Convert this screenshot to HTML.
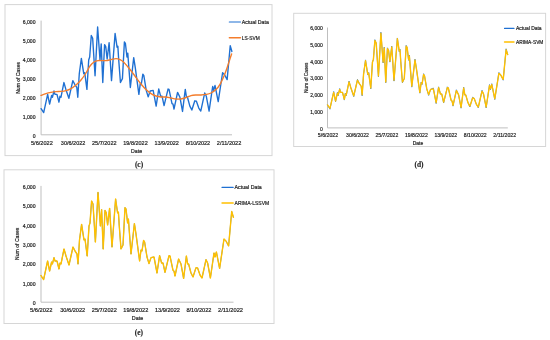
<!DOCTYPE html>
<html><head><meta charset="utf-8"><title>Figure</title>
<style>
html,body{margin:0;padding:0;background:#fff;}
svg{display:block;font-family:"Liberation Sans",sans-serif;fill:#1c1c1c;}
text{stroke:#1c1c1c;stroke-width:0.18px;}
text.cap{font:bold 7.4px "Liberation Serif",serif;fill:#1a1a1a;stroke:#1a1a1a;stroke-width:0.12px;}
</style></head><body>
<svg width="550" height="340" viewBox="0 0 550 340">
<rect width="550" height="340" fill="#fff"/>
<g><rect x="5" y="4.6" width="267" height="151.0" fill="#fff" stroke="#d6d6d6" stroke-width="1"/>
<path d="M41.1,20.62 V134.8 H232" fill="none" stroke="#bfbfbf" stroke-width="1"/>
<text x="35.50" y="137.94" text-anchor="end" font-size="5.1">0</text>
<text x="35.50" y="118.91" text-anchor="end" font-size="5.1">1,000</text>
<text x="35.50" y="99.88" text-anchor="end" font-size="5.1">2,000</text>
<text x="35.50" y="80.85" text-anchor="end" font-size="5.1">3,000</text>
<text x="35.50" y="61.82" text-anchor="end" font-size="5.1">4,000</text>
<text x="35.50" y="42.79" text-anchor="end" font-size="5.1">5,000</text>
<text x="35.50" y="23.76" text-anchor="end" font-size="5.1">6,000</text>
<text x="31.00" y="144.76" font-size="5.45" textLength="21.8" lengthAdjust="spacingAndGlyphs">5/6/2022</text>
<text x="60.85" y="144.76" font-size="5.45" textLength="24.5" lengthAdjust="spacingAndGlyphs">30/6/2022</text>
<text x="92.05" y="144.76" font-size="5.45" textLength="24.5" lengthAdjust="spacingAndGlyphs">25/7/2022</text>
<text x="123.25" y="144.76" font-size="5.45" textLength="24.5" lengthAdjust="spacingAndGlyphs">19/8/2022</text>
<text x="154.45" y="144.76" font-size="5.45" textLength="24.5" lengthAdjust="spacingAndGlyphs">13/9/2022</text>
<text x="185.65" y="144.76" font-size="5.45" textLength="24.5" lengthAdjust="spacingAndGlyphs">8/10/2022</text>
<text x="216.85" y="144.76" font-size="5.45" textLength="24.5" lengthAdjust="spacingAndGlyphs">2/11/2022</text>
<text x="136.6" y="152.67" text-anchor="middle" font-size="5.2">Date</text>
<text transform="translate(18,77.9) rotate(-90)" x="0" y="1.80" text-anchor="middle" font-size="5.0">Num of Cases</text>
<path d="M41.10,108.68 L43.68,112.61 L47.65,94.34 L49.63,104.16 L51.61,95.33 L52.41,97.29 L53.99,91.01 L54.98,94.34 L56.97,94.34 L58.95,102.20 L59.94,96.31 L60.93,97.29 L63.91,82.56 L65.89,89.43 L68.87,98.27 L72.83,80.60 L74.82,84.52 L76.80,87.47 L77.79,97.29 L79.28,73.72 L81.36,58.41 L83.74,73.72 L84.73,72.74 L86.92,89.43 L88.70,59.98 L89.69,57.03 L91.28,35.43 L92.67,38.37 L95.05,75.69 L97.63,26.98 L100.01,59.98 L101.20,43.87 L102.78,82.56 L104.57,44.66 L105.76,46.72 L107.15,58.99 L109.13,42.69 L111.51,80.60 L115.08,33.46 L117.06,47.21 L117.86,46.23 L118.65,58.99 L120.44,82.56 L122.42,78.63 L124.40,41.91 L125.39,43.28 L126.98,57.03 L127.77,53.10 L130.35,87.47 L133.72,57.62 L135.31,67.83 L138.88,94.34 L140.27,83.54 L141.26,84.52 L142.85,74.12 L143.84,75.69 L146.22,90.42 L148.20,96.90 L150.19,91.01 L153.16,90.42 L156.14,106.13 L158.72,89.04 L160.70,96.31 L162.09,96.31 L164.07,105.54 L168.04,89.04 L169.03,89.43 L172.00,103.57 L173.00,104.16 L173.99,109.07 L177.56,92.38 L179.94,97.29 L182.52,111.43 L185.29,89.43 L186.48,97.29 L187.47,97.29 L189.85,106.13 L191.84,110.06 L194.81,100.82 L196.40,101.22 L198.78,108.09 L200.76,111.04 L204.73,92.97 L206.32,96.31 L209.09,111.04 L212.66,86.49 L213.66,90.42 L215.04,85.51 L218.22,101.61 L222.58,72.74 L224.56,74.71 L227.14,79.61 L230.22,45.74 L231.90,51.43" fill="none" stroke="#1f70d2" stroke-width="1.38" stroke-linejoin="round" stroke-linecap="round"/>
<path d="M41.00,95.40 C41.83,95.10 44.33,94.10 46.00,93.60 C47.67,93.10 49.33,92.73 51.00,92.40 C52.67,92.07 54.33,91.77 56.00,91.60 C57.67,91.43 59.33,91.57 61.00,91.40 C62.67,91.23 64.33,91.07 66.00,90.60 C67.67,90.13 69.33,89.53 71.00,88.60 C72.67,87.67 74.33,86.43 76.00,85.00 C77.67,83.57 79.33,82.00 81.00,80.00 C82.67,78.00 84.50,75.33 86.00,73.00 C87.50,70.67 88.67,67.83 90.00,66.00 C91.33,64.17 92.67,62.90 94.00,62.00 C95.33,61.10 96.67,60.83 98.00,60.60 C99.33,60.37 100.67,60.60 102.00,60.60 C103.33,60.60 104.50,60.77 106.00,60.60 C107.50,60.43 109.33,59.93 111.00,59.60 C112.67,59.27 114.50,58.60 116.00,58.60 C117.50,58.60 118.67,58.97 120.00,59.60 C121.33,60.23 122.67,61.17 124.00,62.40 C125.33,63.63 126.67,65.40 128.00,67.00 C129.33,68.60 130.67,70.25 132.00,72.00 C133.33,73.75 134.50,75.50 136.00,77.50 C137.50,79.50 139.33,81.98 141.00,84.00 C142.67,86.02 144.33,88.00 146.00,89.60 C147.67,91.20 149.33,92.53 151.00,93.60 C152.67,94.67 154.33,95.43 156.00,96.00 C157.67,96.57 159.33,96.83 161.00,97.00 C162.67,97.17 164.33,96.83 166.00,97.00 C167.67,97.17 169.33,97.67 171.00,98.00 C172.67,98.33 174.33,98.83 176.00,99.00 C177.67,99.17 179.33,99.23 181.00,99.00 C182.67,98.77 184.33,98.17 186.00,97.60 C187.67,97.03 189.33,96.03 191.00,95.60 C192.67,95.17 194.33,95.10 196.00,95.00 C197.67,94.90 199.33,95.10 201.00,95.00 C202.67,94.90 204.33,94.73 206.00,94.40 C207.67,94.07 209.33,93.80 211.00,93.00 C212.67,92.20 214.50,91.03 216.00,89.60 C217.50,88.17 218.67,86.67 220.00,84.40 C221.33,82.13 222.83,78.73 224.00,76.00 C225.17,73.27 226.07,70.67 227.00,68.00 C227.93,65.33 228.83,62.33 229.60,60.00 C230.37,57.67 231.27,55.00 231.60,54.00" fill="none" stroke="#f47d2c" stroke-width="1.38" stroke-linejoin="round" stroke-linecap="round"/>
<path d="M229.3,22 H240.5" stroke="#1f70d2" stroke-width="1.15" stroke-linecap="round"/>
<text x="241.8" y="23.87" font-size="5.2" textLength="27.0" lengthAdjust="spacingAndGlyphs">Actual Data</text>
<path d="M229.3,37.7 H240.5" stroke="#f47d2c" stroke-width="1.35" stroke-linecap="round"/>
<text x="241.8" y="39.57" font-size="5.2" textLength="18.0" lengthAdjust="spacingAndGlyphs">LS-SVM</text>
<text x="139" y="166.5" text-anchor="middle" class="cap">(c)</text></g>
<g><rect x="293.7" y="13.3" width="251.90000000000003" height="133.2" fill="#fff" stroke="#d6d6d6" stroke-width="1"/>
<path d="M327.5,27.52 V127.9 H507.8" fill="none" stroke="#bfbfbf" stroke-width="1"/>
<text x="322.80" y="130.50" text-anchor="end" font-size="5.0">0</text>
<text x="322.80" y="113.77" text-anchor="end" font-size="5.0">1,000</text>
<text x="322.80" y="97.04" text-anchor="end" font-size="5.0">2,000</text>
<text x="322.80" y="80.31" text-anchor="end" font-size="5.0">3,000</text>
<text x="322.80" y="63.58" text-anchor="end" font-size="5.0">4,000</text>
<text x="322.80" y="46.85" text-anchor="end" font-size="5.0">5,000</text>
<text x="322.80" y="30.12" text-anchor="end" font-size="5.0">6,000</text>
<text x="317.85" y="136.84" font-size="5.1" textLength="20.3" lengthAdjust="spacingAndGlyphs">5/6/2022</text>
<text x="346.05" y="136.84" font-size="5.1" textLength="22.8" lengthAdjust="spacingAndGlyphs">30/6/2022</text>
<text x="375.50" y="136.84" font-size="5.1" textLength="22.8" lengthAdjust="spacingAndGlyphs">25/7/2022</text>
<text x="404.95" y="136.84" font-size="5.1" textLength="22.8" lengthAdjust="spacingAndGlyphs">19/8/2022</text>
<text x="434.40" y="136.84" font-size="5.1" textLength="22.8" lengthAdjust="spacingAndGlyphs">13/9/2022</text>
<text x="463.85" y="136.84" font-size="5.1" textLength="22.8" lengthAdjust="spacingAndGlyphs">8/10/2022</text>
<text x="493.30" y="136.84" font-size="5.1" textLength="22.8" lengthAdjust="spacingAndGlyphs">2/11/2022</text>
<text x="418" y="144.90" text-anchor="middle" font-size="5.0">Date</text>
<text transform="translate(306.4,77.8) rotate(-90)" x="0" y="1.73" text-anchor="middle" font-size="4.8">Num of Cases</text>
<path d="M327.50,104.94 L329.94,109.24 L333.68,91.48 L335.55,101.82 L337.43,92.35 L338.18,95.77 L339.68,88.55 L340.61,92.33 L342.49,92.33 L344.36,100.09 L345.30,93.21 L346.23,95.77 L349.04,81.12 L350.92,88.02 L353.72,96.64 L357.47,79.40 L359.34,83.70 L361.22,86.29 L362.15,95.77 L363.56,74.21 L365.53,59.89 L367.77,75.06 L368.71,72.49 L370.77,88.87 L372.46,62.12 L373.39,59.53 L374.89,39.69 L376.20,43.13 L378.45,76.78 L380.89,32.26 L383.13,62.97 L384.26,47.11 L385.76,82.82 L387.44,47.80 L388.57,50.47 L389.88,62.11 L391.75,46.08 L394.00,81.10 L397.37,37.96 L399.24,51.75 L399.99,49.18 L400.74,61.26 L402.43,82.82 L404.30,78.52 L406.17,45.39 L407.11,47.44 L408.61,60.38 L409.36,55.23 L411.79,87.14 L414.98,59.20 L416.48,69.03 L419.85,93.18 L421.16,81.99 L422.10,84.55 L423.60,73.70 L424.53,75.93 L426.78,88.88 L428.65,95.43 L430.53,89.40 L433.34,88.03 L436.15,103.54 L438.58,86.82 L440.45,94.06 L441.77,94.06 L443.64,103.02 L447.38,86.82 L448.32,88.02 L451.13,100.45 L452.07,100.97 L453.00,106.13 L456.38,89.76 L458.62,94.92 L461.06,108.20 L463.68,87.17 L464.81,94.92 L465.74,94.92 L467.99,102.69 L469.86,107.00 L472.67,97.18 L474.17,98.38 L476.42,104.42 L478.29,107.86 L482.04,90.28 L483.54,94.06 L486.16,107.86 L489.53,84.58 L490.47,89.73 L491.78,83.71 L494.78,99.57 L498.90,72.49 L500.77,75.07 L503.21,80.23 L506.11,48.75 L507.70,54.61" fill="none" stroke="#1f70d2" stroke-width="0.8" stroke-linejoin="round" stroke-linecap="round"/>
<path d="M327.50,104.94 L329.94,108.39 L333.68,92.33 L335.55,100.97 L337.43,93.20 L338.18,94.92 L339.68,89.40 L340.61,92.33 L342.49,92.33 L344.36,99.24 L345.30,94.06 L346.23,94.92 L349.04,81.97 L350.92,88.02 L353.72,95.79 L357.47,80.25 L359.34,83.70 L361.22,86.29 L362.15,94.92 L363.56,74.21 L365.53,60.74 L367.77,74.21 L368.71,73.34 L370.77,88.02 L372.46,62.12 L373.39,59.53 L374.89,40.54 L376.20,43.13 L378.45,75.93 L380.89,33.11 L383.13,62.12 L384.26,47.96 L385.76,81.97 L387.44,48.65 L388.57,50.47 L389.88,61.26 L391.75,46.93 L394.00,80.25 L397.37,38.81 L399.24,50.90 L399.99,50.03 L400.74,61.26 L402.43,81.97 L404.30,78.52 L406.17,46.24 L407.11,47.44 L408.61,59.53 L409.36,56.08 L411.79,86.29 L414.98,60.05 L416.48,69.03 L419.85,92.33 L421.16,82.84 L422.10,83.70 L423.60,74.55 L424.53,75.93 L426.78,88.88 L428.65,94.58 L430.53,89.40 L433.34,88.88 L436.15,102.69 L438.58,87.67 L440.45,94.06 L441.77,94.06 L443.64,102.17 L447.38,87.67 L448.32,88.02 L451.13,100.45 L452.07,100.97 L453.00,105.28 L456.38,90.61 L458.62,94.92 L461.06,107.35 L463.68,88.02 L464.81,94.92 L465.74,94.92 L467.99,102.69 L469.86,106.15 L472.67,98.03 L474.17,98.38 L476.42,104.42 L478.29,107.01 L482.04,91.13 L483.54,94.06 L486.16,107.01 L489.53,85.43 L490.47,88.88 L491.78,84.56 L494.78,98.72 L498.90,73.34 L500.77,75.07 L503.21,79.38 L506.11,49.60 L507.70,54.61" fill="none" stroke="#ffc000" stroke-width="1.38" stroke-linejoin="round" stroke-linecap="round"/>
<path d="M504.5,28.4 H514" stroke="#1f70d2" stroke-width="1.15" stroke-linecap="round"/>
<text x="516" y="30.20" font-size="5.0" textLength="25.6" lengthAdjust="spacingAndGlyphs">Actual Data</text>
<path d="M504.5,42 H514" stroke="#ffc000" stroke-width="1.35" stroke-linecap="round"/>
<text x="516" y="43.80" font-size="5.0" textLength="27.4" lengthAdjust="spacingAndGlyphs">ARIMA-SVM</text>
<text x="419" y="166.8" text-anchor="middle" class="cap">(d)</text></g>
<g><rect x="4" y="169.8" width="270" height="153.7" fill="#fff" stroke="#d6d6d6" stroke-width="1"/>
<path d="M41.0,185.92 V302.2 H233.5" fill="none" stroke="#bfbfbf" stroke-width="1"/>
<text x="35.60" y="305.25" text-anchor="end" font-size="5.15">0</text>
<text x="35.60" y="285.87" text-anchor="end" font-size="5.15">1,000</text>
<text x="35.60" y="266.49" text-anchor="end" font-size="5.15">2,000</text>
<text x="35.60" y="247.11" text-anchor="end" font-size="5.15">3,000</text>
<text x="35.60" y="227.73" text-anchor="end" font-size="5.15">4,000</text>
<text x="35.60" y="208.35" text-anchor="end" font-size="5.15">5,000</text>
<text x="35.60" y="188.97" text-anchor="end" font-size="5.15">6,000</text>
<text x="30.00" y="311.60" font-size="5.55" textLength="22.4" lengthAdjust="spacingAndGlyphs">5/6/2022</text>
<text x="60.25" y="311.60" font-size="5.55" textLength="25.0" lengthAdjust="spacingAndGlyphs">30/6/2022</text>
<text x="91.80" y="311.60" font-size="5.55" textLength="25.0" lengthAdjust="spacingAndGlyphs">25/7/2022</text>
<text x="123.35" y="311.60" font-size="5.55" textLength="25.0" lengthAdjust="spacingAndGlyphs">19/8/2022</text>
<text x="154.90" y="311.60" font-size="5.55" textLength="25.0" lengthAdjust="spacingAndGlyphs">13/9/2022</text>
<text x="186.45" y="311.60" font-size="5.55" textLength="25.0" lengthAdjust="spacingAndGlyphs">8/10/2022</text>
<text x="218.00" y="311.60" font-size="5.55" textLength="25.0" lengthAdjust="spacingAndGlyphs">2/11/2022</text>
<text x="137.6" y="320.09" text-anchor="middle" font-size="5.45">Date</text>
<text transform="translate(17.6,243.8) rotate(-90)" x="0" y="1.84" text-anchor="middle" font-size="5.1">Num of Cases</text>
<path d="M41.00,275.60 L43.60,279.60 L47.60,261.00 L49.60,271.00 L51.60,262.00 L52.40,264.00 L54.00,257.60 L55.00,261.00 L57.00,261.00 L59.00,269.00 L60.00,263.00 L61.00,264.00 L64.00,249.00 L66.00,256.00 L69.00,265.00 L73.00,247.00 L75.00,251.00 L77.00,254.00 L78.00,264.00 L79.50,240.00 L81.60,224.40 L84.00,240.00 L85.00,239.00 L87.20,256.00 L89.00,226.00 L90.00,223.00 L91.60,201.00 L93.00,204.00 L95.40,242.00 L98.00,192.40 L100.40,226.00 L101.60,209.60 L103.20,249.00 L105.00,210.40 L106.20,212.50 L107.60,225.00 L109.60,208.40 L112.00,247.00 L115.60,199.00 L117.60,213.00 L118.40,212.00 L119.20,225.00 L121.00,249.00 L123.00,245.00 L125.00,207.60 L126.00,209.00 L127.60,223.00 L128.40,219.00 L131.00,254.00 L134.40,223.60 L136.00,234.00 L139.60,261.00 L141.00,250.00 L142.00,251.00 L143.60,240.40 L144.60,242.00 L147.00,257.00 L149.00,263.60 L151.00,257.60 L154.00,257.00 L157.00,273.00 L159.60,255.60 L161.60,263.00 L163.00,263.00 L165.00,272.40 L169.00,255.60 L170.00,256.00 L173.00,270.40 L174.00,271.00 L175.00,276.00 L178.60,259.00 L181.00,264.00 L183.60,278.40 L186.40,256.00 L187.60,264.00 L188.60,264.00 L191.00,273.00 L193.00,277.00 L196.00,267.60 L197.60,268.00 L200.00,275.00 L202.00,278.00 L206.00,259.60 L207.60,263.00 L210.40,278.00 L214.00,253.00 L215.00,257.00 L216.40,252.00 L219.60,268.40 L224.00,239.00 L226.00,241.00 L228.60,246.00 L231.70,211.50 L233.40,217.30" fill="none" stroke="#1f70d2" stroke-width="0.8" stroke-linejoin="round" stroke-linecap="round"/>
<path d="M41.00,275.60 L43.60,279.60 L47.60,261.00 L49.60,271.00 L51.60,262.00 L52.40,264.00 L54.00,257.60 L55.00,261.00 L57.00,261.00 L59.00,269.00 L60.00,263.00 L61.00,264.00 L64.00,249.00 L66.00,256.00 L69.00,265.00 L73.00,247.00 L75.00,251.00 L77.00,254.00 L78.00,264.00 L79.50,240.00 L81.60,224.40 L84.00,240.00 L85.00,239.00 L87.20,256.00 L89.00,226.00 L90.00,223.00 L91.60,201.00 L93.00,204.00 L95.40,242.00 L98.00,192.40 L100.40,226.00 L101.60,209.60 L103.20,249.00 L105.00,210.40 L106.20,212.50 L107.60,225.00 L109.60,208.40 L112.00,247.00 L115.60,199.00 L117.60,213.00 L118.40,212.00 L119.20,225.00 L121.00,249.00 L123.00,245.00 L125.00,207.60 L126.00,209.00 L127.60,223.00 L128.40,219.00 L131.00,254.00 L134.40,223.60 L136.00,234.00 L139.60,261.00 L141.00,250.00 L142.00,251.00 L143.60,240.40 L144.60,242.00 L147.00,257.00 L149.00,263.60 L151.00,257.60 L154.00,257.00 L157.00,273.00 L159.60,255.60 L161.60,263.00 L163.00,263.00 L165.00,272.40 L169.00,255.60 L170.00,256.00 L173.00,270.40 L174.00,271.00 L175.00,276.00 L178.60,259.00 L181.00,264.00 L183.60,278.40 L186.40,256.00 L187.60,264.00 L188.60,264.00 L191.00,273.00 L193.00,277.00 L196.00,267.60 L197.60,268.00 L200.00,275.00 L202.00,278.00 L206.00,259.60 L207.60,263.00 L210.40,278.00 L214.00,253.00 L215.00,257.00 L216.40,252.00 L219.60,268.40 L224.00,239.00 L226.00,241.00 L228.60,246.00 L231.70,211.50 L233.40,217.30" fill="none" stroke="#ffc000" stroke-width="1.4" stroke-linejoin="round" stroke-linecap="round"/>
<path d="M222,187.4 H233.2" stroke="#1f70d2" stroke-width="1.15" stroke-linecap="round"/>
<text x="234.6" y="189.29" font-size="5.25" textLength="27.2" lengthAdjust="spacingAndGlyphs">Actual Data</text>
<path d="M222,203 H233.2" stroke="#ffc000" stroke-width="1.35" stroke-linecap="round"/>
<text x="234.6" y="204.89" font-size="5.25" textLength="34.6" lengthAdjust="spacingAndGlyphs">ARIMA-LSSVM</text>
<text x="138.8" y="334.9" text-anchor="middle" class="cap">(e)</text></g>
</svg>
</body></html>
